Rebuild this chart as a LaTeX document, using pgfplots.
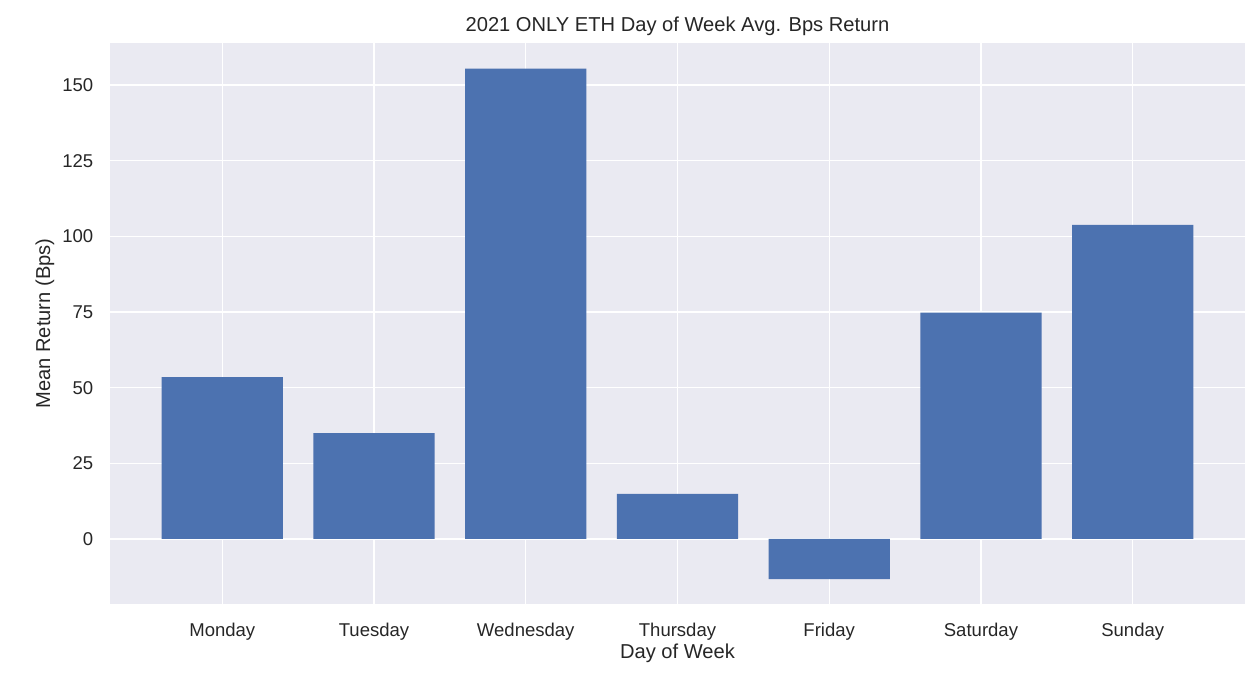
\documentclass[border=0pt]{standalone}
\usepackage{fontspec}
\setmainfont{Liberation Sans}
\usepackage{pgfplots}
\pgfplotsset{compat=1.18}
\definecolor{sbbg}{HTML}{EAEAF2}
\definecolor{sbblue}{HTML}{4C72B0}
\definecolor{sbtext}{HTML}{262626}

\begin{document}
\begin{tikzpicture}
% page size: 1258 x 677 px at 0.75pt per px
\path[use as bounding box] (-82.5pt,-54.75pt) rectangle (861pt,453pt);
\begin{axis}[
    at={(0,0)}, anchor=south west,
    scale only axis,
    width=851.25pt,
    height=420.75pt,
    xmin=-0.74, xmax=6.74,
    ymin=-21.5, ymax=163.9,
    xtick={0,1,2,3,4,5,6},
    xticklabels={Monday,Tuesday,Wednesday,Thursday,Friday,Saturday,Sunday},
    ytick={0,25,50,75,100,125,150},
    axis background/.style={fill=sbbg},
    axis line style={draw=none},
    major tick length=0pt,
    grid=major,
    major grid style={white, line width=1pt},
    /pgf/number format/assume math mode=true,
    tick label style={font=\fontsize{13.9}{16}\selectfont, text=sbtext},
    yticklabel style={xshift=-9pt},
    xticklabel style={yshift=-10.5pt},
    title={2021 ONLY ETH Day of Week Avg. Bps Return},
    every axis title/.style={at={(axis description cs:0.5,1.030)}, anchor=center,
        font=\fontsize{15.1}{18}\selectfont, text=sbtext},
    xlabel={Day of Week},
    every axis x label/.style={at={(axis description cs:0.5,-0.0873)}, anchor=center,
        font=\fontsize{15.1}{18}\selectfont, text=sbtext},
    ylabel={Mean Return (Bps)},
    every axis y label/.style={at={(axis description cs:-0.0573,0.5)}, rotate=90, anchor=center,
        font=\fontsize{15.1}{18}\selectfont, text=sbtext},
    ybar,
    bar width=0.8,
]
\addplot[fill=sbblue, draw=none] coordinates {
    (0,53.5) (1,35.0) (2,155.4) (3,14.9) (4,-13.3) (5,74.8) (6,103.8)
};
\end{axis}
\end{tikzpicture}
\end{document}
